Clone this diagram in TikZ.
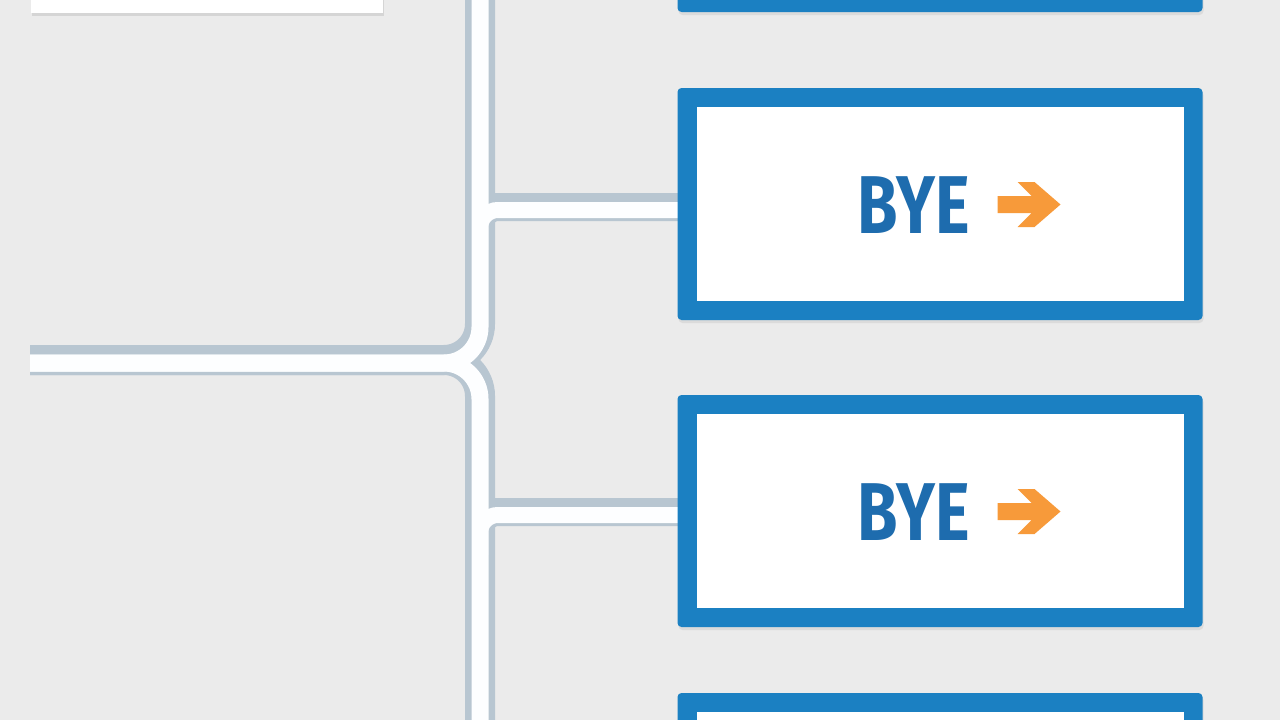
\documentclass[tikz,border=0pt]{standalone}
\usepackage{fontspec}
\setmainfont{Fira Sans}
\usepackage{graphicx}
\usetikzlibrary{shadows,calc}
\definecolor{bg}{RGB}{235,235,235}
\definecolor{boxblue}{RGB}{27,128,194}
\definecolor{txtblue}{RGB}{30,108,174}
\definecolor{arrorange}{RGB}{247,154,58}
\definecolor{groove}{RGB}{184,198,209}
\definecolor{linewhite}{RGB}{253,254,255}
\tikzset{
  bluebox/.style={fill=boxblue, draw=none, rounded corners=4pt,
    minimum width=525pt, minimum height=232pt, inner sep=0pt,
    drop shadow={shadow xshift=1pt, shadow yshift=-3pt, opacity=0.15},
    path picture={\fill[white, sharp corners]
      ($(path picture bounding box.south west)+(19,-19)$) rectangle
      ($(path picture bounding box.north east)+(-19,19)$);}},
  whitebox/.style={fill=white, draw=none, minimum width=352pt, minimum height=126pt,
    inner sep=0pt, drop shadow={shadow xshift=1pt, shadow yshift=-3pt, opacity=0.2}},
  byetext/.style={text=txtblue, font=\fontsize{82}{82}\selectfont\bfseries, inner sep=0pt},
  arrowshape/.style={fill=arrorange},
}
\begin{document}
\begin{tikzpicture}[x=1pt,y=-1pt]
\useasboundingbox (0,0) rectangle (1280,720);
\fill[bg] (0,0) rectangle (1280,720);

\coordinate (vtop) at (480,-30);
\coordinate (vbot) at (480,750);
\coordinate (hub) at (480,363);
\coordinate (lend) at (30,363);

\path (940,-104) coordinate (c0) (940,204) coordinate (c1) (940,511) coordinate (c2) (940,809) coordinate (c3);

% connector layers: groove below, white strip on top
\foreach \lw/\blw/\col/\sh in {30/28/groove/3, 17/16/linewhite/0}{
  \begin{scope}[transform canvas={yshift=\sh pt}]
    \draw[\col, line width=\lw pt, rounded corners=36pt] (vtop) -- (hub) -- (lend);
    \draw[\col, line width=\lw pt, rounded corners=36pt] (vbot) -- (hub) -- (lend);
    \draw[\col, line width=\blw pt, rounded corners=18pt] ($(c1)+(-200,6)$) -- ($(c1 -| vtop)+(0,6)$) -- ++(0,40);
    \draw[\col, line width=\blw pt, rounded corners=18pt] ($(c2)+(-200,4)$) -- ($(c2 -| vtop)+(0,4)$) -- ++(0,40);
  \end{scope}
}

\node[whitebox] (w0) at (207,-50) {};
\node[bluebox] (b0) at (c0) {};
\node[bluebox] (b1) at (c1) {};
\node[bluebox] (b2) at (c2) {};
\node[bluebox] (b3) at (c3) {};

\foreach \b in {b1,b2}{
  \node[byetext, anchor=base] (t\b) at ($(\b.center)+(-26.5,29)$) {\scalebox{0.8}[1]{BYE}};
  \begin{scope}[shift={(\b.center)}]
    \fill[arrowshape] (57.5,-8) -- (91.5,-8) -- (77.5,-22) -- (94.5,-22) -- (120.5,0.5)
      -- (94.5,23) -- (77.5,23) -- (91.5,9) -- (57.5,9) -- cycle;
  \end{scope}
}
\end{tikzpicture}
\end{document}
